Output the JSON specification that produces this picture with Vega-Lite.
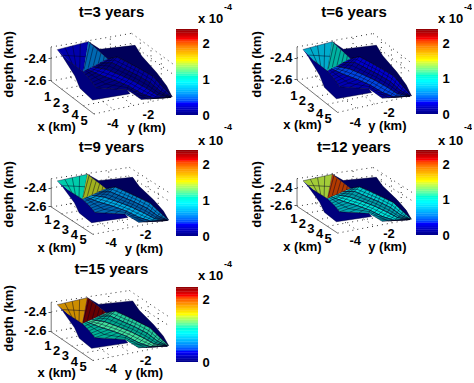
{"$schema":"https://vega.github.io/schema/vega-lite/v6.json","padding":{"left":2,"top":3,"right":0,"bottom":0},"spacing":0,"columns":4,"bounds":"flush",
"config":{"view":{"stroke":null},"font":"Liberation Sans","title":{"font":"Liberation Sans","fontWeight":"bold","fontSize":15,"color":"#000","offset":0,"baseline":"alphabetic"},"text":{"font":"Liberation Sans","fontWeight":"bold","fontSize":13,"color":"#000"},
"axis":{"titleFontSize":13,"titleFontWeight":"bold","titleColor":"#000","labelFontSize":13,"labelFontWeight":"bold","labelColor":"#000","domain":false,"grid":false}},
"datasets":{
"grid":[{"g":"a","u":153,"v":138},{"g":"a","u":395,"v":97},{"g":"b","u":395,"v":97},{"g":"b","u":520,"v":190},{"g":"c","u":153,"v":171},{"g":"c","u":392,"v":128},{"g":"d","u":392,"v":128},{"g":"d","u":518,"v":219},{"g":"e","u":212,"v":229},{"g":"e","u":212,"v":127},{"g":"f","u":271,"v":217},{"g":"f","u":271,"v":115},{"g":"h","u":331,"v":206},{"g":"h","u":331,"v":104},{"g":"i","u":421,"v":218},{"g":"i","u":421,"v":116},{"g":"j","u":453,"v":241},{"g":"j","u":453,"v":139},{"g":"k","u":484,"v":265},{"g":"k","u":484,"v":163},{"g":"l","u":185,"v":265},{"g":"l","u":421,"v":218},{"g":"m","u":217,"v":290},{"g":"m","u":453,"v":241},{"g":"n","u":250,"v":314},{"g":"n","u":484,"v":265},{"g":"o","u":212,"v":229},{"g":"o","u":341,"v":326},{"g":"p","u":271,"v":217},{"g":"p","u":399,"v":313},{"g":"q","u":331,"v":206},{"g":"q","u":457,"v":301},{"g":"r","u":282,"v":339},{"g":"r","u":516,"v":288},{"g":"s","u":153,"v":240},{"g":"s","u":390,"v":195},{"g":"t","u":390,"v":195},{"g":"t","u":516,"v":288}],
"edges":[{"g":"z","u":153,"v":138},{"g":"z","u":153,"v":240},{"g":"z","u":282,"v":339}],
"polys":[{"p":"N","c3":0.02,"c6":0.03,"c9":0.03,"c12":0.03,"c15":0.03,"s":0.4},{"p":"S","c3":0.1,"c6":0.1,"c9":0.12,"c12":0.1,"c15":0.08,"s":0.3},{"p":"W1","c3":0.2,"c6":0.75,"c9":1.05,"c12":1.4,"c15":1.75,"s":0.2},{"p":"W2","c3":0.55,"c6":1.0,"c9":1.45,"c12":2.0,"c15":2.35,"s":0.3},{"p":"M0","c3":0.15,"c6":0.3,"c9":0.6,"c12":0.9,"c15":1.1,"s":0.2},{"p":"M1","c3":0.12,"c6":0.25,"c9":0.55,"c12":0.85,"c15":1.05,"s":0.35},{"p":"M2","c3":0.2,"c6":0.38,"c9":0.68,"c12":0.95,"c15":1.15,"s":0.12},{"p":"M3","c3":0.12,"c6":0.3,"c9":0.55,"c12":0.85,"c15":1.05,"s":0.3}],
"verts":[
{"p":"N","u":265,"v":122},{"p":"N","u":300,"v":145},{"p":"N","u":405,"v":133},{"p":"N","u":425,"v":165},{"p":"N","u":470,"v":215},{"p":"N","u":500,"v":255},{"p":"N","u":516,"v":287},{"p":"N","u":490,"v":260},{"p":"N","u":459,"v":226},{"p":"N","u":418,"v":203},{"p":"N","u":385,"v":185},{"p":"N","u":351,"v":168},{"p":"N","u":323,"v":174},
{"p":"S","u":172,"v":146},{"p":"S","u":206,"v":180},{"p":"S","u":250,"v":212},{"p":"S","u":271,"v":236},{"p":"S","u":289,"v":260},{"p":"S","u":381,"v":266},{"p":"S","u":390,"v":278},{"p":"S","u":278,"v":297},{"p":"S","u":240,"v":262},{"p":"S","u":225,"v":225},{"p":"S","u":190,"v":170},
{"p":"W1","u":172,"v":146},{"p":"W1","u":265,"v":122},{"p":"W1","u":250,"v":212},{"p":"W1","u":206,"v":180},
{"p":"W2","u":265,"v":122},{"p":"W2","u":323,"v":174},{"p":"W2","u":250,"v":212},
{"p":"M0","u":323,"v":174},{"p":"M0","u":351,"v":168},{"p":"M0","u":385,"v":185},{"p":"M0","u":418,"v":203},{"p":"M0","u":459,"v":226},{"p":"M0","u":490,"v":260},{"p":"M0","u":516,"v":287},{"p":"M0","u":512,"v":288},{"p":"M0","u":482,"v":272},{"p":"M0","u":450,"v":245},{"p":"M0","u":410,"v":222},{"p":"M0","u":375,"v":205},{"p":"M0","u":335,"v":185},{"p":"M0","u":300,"v":186},
{"p":"M1","u":300,"v":186},{"p":"M1","u":335,"v":185},{"p":"M1","u":375,"v":205},{"p":"M1","u":410,"v":222},{"p":"M1","u":450,"v":245},{"p":"M1","u":482,"v":272},{"p":"M1","u":512,"v":288},{"p":"M1","u":512,"v":289},{"p":"M1","u":472,"v":282},{"p":"M1","u":440,"v":262},{"p":"M1","u":400,"v":240},{"p":"M1","u":360,"v":222},{"p":"M1","u":318,"v":205},{"p":"M1","u":278,"v":198},
{"p":"M2","u":278,"v":198},{"p":"M2","u":318,"v":205},{"p":"M2","u":360,"v":222},{"p":"M2","u":400,"v":240},{"p":"M2","u":440,"v":262},{"p":"M2","u":472,"v":282},{"p":"M2","u":512,"v":289},{"p":"M2","u":511,"v":289},{"p":"M2","u":462,"v":292},{"p":"M2","u":425,"v":278},{"p":"M2","u":385,"v":255},{"p":"M2","u":345,"v":238},{"p":"M2","u":300,"v":222},{"p":"M2","u":262,"v":205},
{"p":"M3","u":262,"v":205},{"p":"M3","u":300,"v":222},{"p":"M3","u":345,"v":238},{"p":"M3","u":385,"v":255},{"p":"M3","u":425,"v":278},{"p":"M3","u":462,"v":292},{"p":"M3","u":511,"v":289},{"p":"M3","u":510,"v":289},{"p":"M3","u":423,"v":295},{"p":"M3","u":402,"v":280},{"p":"M3","u":381,"v":266},{"p":"M3","u":289,"v":260},{"p":"M3","u":271,"v":236},{"p":"M3","u":250,"v":212}],
"mesh":[
{"m":"L0","u":323,"v":174},{"m":"L0","u":351,"v":168},{"m":"L0","u":385,"v":185},{"m":"L0","u":418,"v":203},{"m":"L0","u":459,"v":226},{"m":"L0","u":490,"v":260},{"m":"L0","u":516,"v":287},
{"m":"La","u":312,"v":180},{"m":"La","u":343,"v":177},{"m":"La","u":380,"v":195},{"m":"La","u":414,"v":212},{"m":"La","u":455,"v":236},{"m":"La","u":486,"v":266},{"m":"La","u":514,"v":288},
{"m":"L1","u":300,"v":186},{"m":"L1","u":335,"v":185},{"m":"L1","u":375,"v":205},{"m":"L1","u":410,"v":222},{"m":"L1","u":450,"v":245},{"m":"L1","u":482,"v":272},{"m":"L1","u":512,"v":288},
{"m":"Lb","u":289,"v":192},{"m":"Lb","u":327,"v":195},{"m":"Lb","u":368,"v":214},{"m":"Lb","u":405,"v":231},{"m":"Lb","u":445,"v":254},{"m":"Lb","u":477,"v":277},{"m":"Lb","u":512,"v":288},
{"m":"L2","u":278,"v":198},{"m":"L2","u":318,"v":205},{"m":"L2","u":360,"v":222},{"m":"L2","u":400,"v":240},{"m":"L2","u":440,"v":262},{"m":"L2","u":472,"v":282},{"m":"L2","u":512,"v":289},
{"m":"Lc","u":270,"v":202},{"m":"Lc","u":309,"v":214},{"m":"Lc","u":353,"v":230},{"m":"Lc","u":393,"v":248},{"m":"Lc","u":433,"v":270},{"m":"Lc","u":467,"v":287},{"m":"Lc","u":512,"v":289},
{"m":"L3","u":262,"v":205},{"m":"L3","u":300,"v":222},{"m":"L3","u":345,"v":238},{"m":"L3","u":385,"v":255},{"m":"L3","u":425,"v":278},{"m":"L3","u":462,"v":292},{"m":"L3","u":511,"v":289},
{"m":"Ld","u":256,"v":208},{"m":"Ld","u":286,"v":229},{"m":"Ld","u":317,"v":249},{"m":"Ld","u":383,"v":260},{"m":"Ld","u":414,"v":279},{"m":"Ld","u":443,"v":294},{"m":"Ld","u":510,"v":289},
{"m":"X1","u":332,"v":172},{"m":"X1","u":312,"v":186},{"m":"X1","u":291,"v":200},{"m":"X1","u":275,"v":211},{"m":"X1","u":257,"v":220},
{"m":"X2","u":342,"v":170},{"m":"X2","u":323,"v":185},{"m":"X2","u":305,"v":203},{"m":"X2","u":287,"v":216},{"m":"X2","u":264,"v":228},
{"m":"X3","u":351,"v":168},{"m":"X3","u":335,"v":185},{"m":"X3","u":318,"v":205},{"m":"X3","u":300,"v":222},{"m":"X3","u":271,"v":236},
{"m":"X4","u":362,"v":174},{"m":"X4","u":348,"v":192},{"m":"X4","u":332,"v":211},{"m":"X4","u":315,"v":227},{"m":"X4","u":277,"v":244},
{"m":"X5","u":374,"v":179},{"m":"X5","u":362,"v":198},{"m":"X5","u":346,"v":216},{"m":"X5","u":330,"v":233},{"m":"X5","u":283,"v":252},
{"m":"X6","u":385,"v":185},{"m":"X6","u":375,"v":205},{"m":"X6","u":360,"v":222},{"m":"X6","u":345,"v":238},{"m":"X6","u":289,"v":260},
{"m":"X7","u":396,"v":191},{"m":"X7","u":387,"v":211},{"m":"X7","u":373,"v":228},{"m":"X7","u":358,"v":244},{"m":"X7","u":320,"v":262},
{"m":"X8","u":407,"v":197},{"m":"X8","u":398,"v":216},{"m":"X8","u":387,"v":234},{"m":"X8","u":372,"v":249},{"m":"X8","u":350,"v":264},
{"m":"X9","u":418,"v":203},{"m":"X9","u":410,"v":222},{"m":"X9","u":400,"v":240},{"m":"X9","u":385,"v":255},{"m":"X9","u":381,"v":266},
{"m":"Xa","u":432,"v":211},{"m":"Xa","u":423,"v":230},{"m":"Xa","u":413,"v":247},{"m":"Xa","u":398,"v":263},{"m":"Xa","u":388,"v":271},
{"m":"Xb","u":445,"v":218},{"m":"Xb","u":437,"v":237},{"m":"Xb","u":427,"v":255},{"m":"Xb","u":412,"v":270},{"m":"Xb","u":395,"v":275},
{"m":"Xc","u":459,"v":226},{"m":"Xc","u":450,"v":245},{"m":"Xc","u":440,"v":262},{"m":"Xc","u":425,"v":278},{"m":"Xc","u":402,"v":280},
{"m":"Xd","u":469,"v":237},{"m":"Xd","u":461,"v":254},{"m":"Xd","u":451,"v":269},{"m":"Xd","u":437,"v":283},{"m":"Xd","u":409,"v":285},
{"m":"Xe","u":480,"v":249},{"m":"Xe","u":471,"v":263},{"m":"Xe","u":461,"v":276},{"m":"Xe","u":450,"v":287},{"m":"Xe","u":416,"v":290},
{"m":"Xf","u":490,"v":260},{"m":"Xf","u":482,"v":272},{"m":"Xf","u":472,"v":282},{"m":"Xf","u":462,"v":292},{"m":"Xf","u":423,"v":295},
{"m":"Xg","u":499,"v":269},{"m":"Xg","u":492,"v":277},{"m":"Xg","u":485,"v":284},{"m":"Xg","u":478,"v":291},{"m":"Xg","u":452,"v":293},
{"m":"Xh","u":507,"v":278},{"m":"Xh","u":502,"v":283},{"m":"Xh","u":499,"v":287},{"m":"Xh","u":495,"v":290},{"m":"Xh","u":481,"v":291},
{"m":"Y1","u":270,"v":128},{"m":"Y1","u":252,"v":205},{"m":"Y2","u":280,"v":137},{"m":"Y2","u":265,"v":200},{"m":"Y3","u":292,"v":147},{"m":"Y3","u":280,"v":194},{"m":"Y4","u":303,"v":156},{"m":"Y4","u":295,"v":187},{"m":"Y5","u":313,"v":165},{"m":"Y5","u":310,"v":180},
{"m":"Z1","u":195,"v":140},{"m":"Z1","u":217,"v":188},{"m":"Z2","u":218,"v":134},{"m":"Z2","u":228,"v":196},{"m":"Z3","u":241,"v":128},{"m":"Z3","u":239,"v":204},{"m":"Z4","u":189,"v":163},{"m":"Z4","u":257,"v":167}],
"labs":[{"t":"1","u":143,"v":288},{"t":"2","u":170,"v":305},{"t":"3","u":197,"v":325},{"t":"4","u":225,"v":343},{"t":"5","u":252,"v":360},{"t":"-4","u":338,"v":370},{"t":"-2","u":445,"v":342}],
"names":[{"t":"x (km)","u":170,"v":378},{"t":"y (km)","u":440,"v":380}],
"bar":[{"a":0,"b":0.06},{"a":0.05,"b":0.11},{"a":0.1,"b":0.16},{"a":0.15,"b":0.21},{"a":0.2,"b":0.26},{"a":0.25,"b":0.31},{"a":0.3,"b":0.36},{"a":0.35,"b":0.41},{"a":0.4,"b":0.46},{"a":0.45,"b":0.51},{"a":0.5,"b":0.56},{"a":0.55,"b":0.61},{"a":0.6,"b":0.66},{"a":0.65,"b":0.71},{"a":0.7,"b":0.76},{"a":0.75,"b":0.81},{"a":0.8,"b":0.86},{"a":0.85,"b":0.91},{"a":0.9,"b":0.96},{"a":0.95,"b":1.01},{"a":1,"b":1.06},{"a":1.05,"b":1.11},{"a":1.1,"b":1.16},{"a":1.15,"b":1.21},{"a":1.2,"b":1.26},{"a":1.25,"b":1.31},{"a":1.3,"b":1.36},{"a":1.35,"b":1.41},{"a":1.4,"b":1.46},{"a":1.45,"b":1.51},{"a":1.5,"b":1.56},{"a":1.55,"b":1.61},{"a":1.6,"b":1.66},{"a":1.65,"b":1.71},{"a":1.7,"b":1.76},{"a":1.75,"b":1.81},{"a":1.8,"b":1.86},{"a":1.85,"b":1.91},{"a":1.9,"b":1.96},{"a":1.95,"b":2.01},{"a":2,"b":2.06},{"a":2.05,"b":2.11},{"a":2.1,"b":2.16},{"a":2.15,"b":2.21},{"a":2.2,"b":2.26},{"a":2.25,"b":2.31},{"a":2.3,"b":2.36},{"a":2.35,"b":2.4}]
},
"concat":[
{"width":125,"height":121,"title":{"text":"t=3 years","dy":-5,"dx":-2},
"encoding":{"x":{"field":"u","type":"quantitative","scale":{"domain":[153,528],"nice":false,"zero":false},"axis":null},"y":{"field":"v","type":"quantitative","scale":{"domain":[447,84],"nice":false,"zero":false},"axis":{"values":[171,237],"labelExpr":"datum.value==171?'-2.4':'-2.6'","title":"depth (km)","titleX":-36,"titleY":35,"tickSize":3,"tickColor":"#555","labelPadding":2}}},
"layer":[{"data":{"name":"grid"},"transform":[{"window":[{"op":"row_number","as":"o"}]}],"mark":{"type":"line","stroke":"#333","strokeWidth":1,"strokeDash":[1,4]},"encoding":{"detail":{"field":"g"},"order":{"field":"o"}}},
{"data":{"name":"edges"},"transform":[{"window":[{"op":"row_number","as":"o"}]}],"mark":{"type":"line","stroke":"#777","strokeWidth":1},"encoding":{"detail":{"field":"g"},"order":{"field":"o"}}},
{"data":{"name":"verts"},"transform":[{"window":[{"op":"row_number","as":"o"}]},{"lookup":"p","from":{"data":{"name":"polys"},"key":"p","fields":["c3"]}}],"mark":{"type":"line","stroke":"#000030","strokeWidth":0.4},"encoding":{"detail":{"field":"p"},"order":{"field":"o"},"fill":{"field":"c3","type":"quantitative","legend":null,"scale":{"domain":[0,0.3,0.9,1.5,2.1,2.4],"range":["#00008f","#0000ff","#00ffff","#ffff00","#ff0000","#800000"]}}}},
{"data":{"name":"verts"},"transform":[{"window":[{"op":"row_number","as":"o"}]},{"lookup":"p","from":{"data":{"name":"polys"},"key":"p","fields":["s"]}}],"mark":{"type":"line","fill":"#000","strokeWidth":0},"encoding":{"detail":{"field":"p"},"order":{"field":"o"},"fillOpacity":{"field":"s","type":"quantitative","scale":null}}},
{"data":{"name":"mesh"},"transform":[{"window":[{"op":"row_number","as":"o"}]}],"mark":{"type":"line","stroke":"#000020","strokeWidth":0.6,"strokeOpacity":0.8},"encoding":{"detail":{"field":"m"},"order":{"field":"o"}}},
{"data":{"name":"labs"},"mark":{"type":"text"},"encoding":{"text":{"field":"t"}}},
{"data":{"name":"names"},"mark":{"type":"text"},"encoding":{"text":{"field":"t"}}}]},
{"width":22,"height":86,"data":{"name":"bar"},
"layer":[{"mark":"rect","encoding":{"x":{"datum":0,"scale":{"domain":[0,1]},"axis":null},"x2":{"datum":1},"y":{"field":"a","type":"quantitative","scale":{"domain":[0,2.4],"nice":false},"axis":{"orient":"right","values":[0,1,2],"title":null,"ticks":false,"labelPadding":4}},"y2":{"field":"b"},"fill":{"field":"a","type":"quantitative","legend":null,"scale":{"domain":[0,0.3,0.9,1.5,2.1,2.4],"range":["#00008f","#0000ff","#00ffff","#ffff00","#ff0000","#800000"]}}}},
{"data":{"values":[{"t":"x 10","xx":1,"yy":2.68,"f":13},{"t":"-4","xx":2.18,"yy":3.01,"f":9}]},"mark":{"type":"text","align":"left"},"encoding":{"x":{"field":"xx","type":"quantitative"},"y":{"field":"yy","type":"quantitative"},"text":{"field":"t"},"size":{"field":"f","type":"quantitative","scale":null}}}]},
{"width":218,"height":121,"title":{"text":"t=6 years","dy":-5,"dx":47},
"encoding":{"x":{"field":"u","type":"quantitative","scale":{"domain":[-161.7,531],"nice":false,"zero":false},"axis":null},"y":{"field":"v","type":"quantitative","scale":{"domain":[454.2,83.1],"nice":false,"zero":false},"axis":{"offset":-99,"values":[171,237],"labelExpr":"datum.value==171?'-2.4':'-2.6'","title":"depth (km)","titleX":-34,"titleY":35,"tickSize":3,"tickColor":"#555","labelPadding":2}}},
"layer":[{"data":{"name":"grid"},"transform":[{"window":[{"op":"row_number","as":"o"}]}],"mark":{"type":"line","stroke":"#333","strokeWidth":1,"strokeDash":[1,4]},"encoding":{"detail":{"field":"g"},"order":{"field":"o"}}},
{"data":{"name":"edges"},"transform":[{"window":[{"op":"row_number","as":"o"}]}],"mark":{"type":"line","stroke":"#777","strokeWidth":1},"encoding":{"detail":{"field":"g"},"order":{"field":"o"}}},
{"data":{"name":"verts"},"transform":[{"window":[{"op":"row_number","as":"o"}]},{"lookup":"p","from":{"data":{"name":"polys"},"key":"p","fields":["c6"]}}],"mark":{"type":"line","stroke":"#000030","strokeWidth":0.4},"encoding":{"detail":{"field":"p"},"order":{"field":"o"},"fill":{"field":"c6","type":"quantitative","legend":null,"scale":{"domain":[0,0.3,0.9,1.5,2.1,2.4],"range":["#00008f","#0000ff","#00ffff","#ffff00","#ff0000","#800000"]}}}},
{"data":{"name":"verts"},"transform":[{"window":[{"op":"row_number","as":"o"}]},{"lookup":"p","from":{"data":{"name":"polys"},"key":"p","fields":["s"]}}],"mark":{"type":"line","fill":"#000","strokeWidth":0},"encoding":{"detail":{"field":"p"},"order":{"field":"o"},"fillOpacity":{"field":"s","type":"quantitative","scale":null}}},
{"data":{"name":"mesh"},"transform":[{"window":[{"op":"row_number","as":"o"}]}],"mark":{"type":"line","stroke":"#000020","strokeWidth":0.6,"strokeOpacity":0.8},"encoding":{"detail":{"field":"m"},"order":{"field":"o"}}},
{"data":{"name":"labs"},"mark":{"type":"text"},"encoding":{"text":{"field":"t"}}},
{"data":{"name":"names"},"mark":{"type":"text"},"encoding":{"text":{"field":"t"}}}]},
{"width":22,"height":85,"data":{"name":"bar"},
"layer":[{"mark":"rect","encoding":{"x":{"datum":0,"scale":{"domain":[0,1]},"axis":null},"x2":{"datum":1},"y":{"field":"a","type":"quantitative","scale":{"domain":[0,2.4],"nice":false},"axis":{"orient":"right","values":[0,1,2],"title":null,"ticks":false,"labelPadding":4}},"y2":{"field":"b"},"fill":{"field":"a","type":"quantitative","legend":null,"scale":{"domain":[0,0.3,0.9,1.5,2.1,2.4],"range":["#00008f","#0000ff","#00ffff","#ffff00","#ff0000","#800000"]}}}},
{"data":{"values":[{"t":"x 10","xx":1,"yy":2.68,"f":13},{"t":"-4","xx":2.18,"yy":3.01,"f":9}]},"mark":{"type":"text","align":"left"},"encoding":{"x":{"field":"xx","type":"quantitative"},"y":{"field":"yy","type":"quantitative"},"text":{"field":"t"},"size":{"field":"f","type":"quantitative","scale":null}}}]},
{"width":125,"height":137,"title":{"text":"t=9 years","dy":9,"dx":-2},
"encoding":{"x":{"field":"u","type":"quantitative","scale":{"domain":[152.4,539.1],"nice":false,"zero":false},"axis":null},"y":{"field":"v","type":"quantitative","scale":{"domain":[529.5,34.2],"nice":false,"zero":false},"axis":{"values":[171,237],"labelExpr":"datum.value==171?'-2.4':'-2.6'","title":"depth (km)","titleX":-36,"titleY":44,"tickSize":3,"tickColor":"#555","labelPadding":2}}},
"layer":[{"data":{"name":"grid"},"transform":[{"window":[{"op":"row_number","as":"o"}]}],"mark":{"type":"line","stroke":"#333","strokeWidth":1,"strokeDash":[1,4]},"encoding":{"detail":{"field":"g"},"order":{"field":"o"}}},
{"data":{"name":"edges"},"transform":[{"window":[{"op":"row_number","as":"o"}]}],"mark":{"type":"line","stroke":"#777","strokeWidth":1},"encoding":{"detail":{"field":"g"},"order":{"field":"o"}}},
{"data":{"name":"verts"},"transform":[{"window":[{"op":"row_number","as":"o"}]},{"lookup":"p","from":{"data":{"name":"polys"},"key":"p","fields":["c9"]}}],"mark":{"type":"line","stroke":"#000030","strokeWidth":0.4},"encoding":{"detail":{"field":"p"},"order":{"field":"o"},"fill":{"field":"c9","type":"quantitative","legend":null,"scale":{"domain":[0,0.3,0.9,1.5,2.1,2.4],"range":["#00008f","#0000ff","#00ffff","#ffff00","#ff0000","#800000"]}}}},
{"data":{"name":"verts"},"transform":[{"window":[{"op":"row_number","as":"o"}]},{"lookup":"p","from":{"data":{"name":"polys"},"key":"p","fields":["s"]}}],"mark":{"type":"line","fill":"#000","strokeWidth":0},"encoding":{"detail":{"field":"p"},"order":{"field":"o"},"fillOpacity":{"field":"s","type":"quantitative","scale":null}}},
{"data":{"name":"mesh"},"transform":[{"window":[{"op":"row_number","as":"o"}]}],"mark":{"type":"line","stroke":"#000020","strokeWidth":0.6,"strokeOpacity":0.8},"encoding":{"detail":{"field":"m"},"order":{"field":"o"}}},
{"data":{"name":"labs"},"mark":{"type":"text"},"encoding":{"text":{"field":"t"}}},
{"data":{"name":"names"},"mark":{"type":"text","dy":3},"encoding":{"text":{"field":"t"}}}]},
{"width":22,"height":86,"data":{"name":"bar"},
"layer":[{"mark":"rect","encoding":{"x":{"datum":0,"scale":{"domain":[0,1]},"axis":null},"x2":{"datum":1},"y":{"field":"a","type":"quantitative","scale":{"domain":[0,2.4],"nice":false},"axis":{"orient":"right","values":[0,1,2],"title":null,"ticks":false,"labelPadding":4}},"y2":{"field":"b"},"fill":{"field":"a","type":"quantitative","legend":null,"scale":{"domain":[0,0.3,0.9,1.5,2.1,2.4],"range":["#00008f","#0000ff","#00ffff","#ffff00","#ff0000","#800000"]}}}},
{"data":{"values":[{"t":"x 10","xx":1,"yy":2.65,"f":13},{"t":"-4","xx":2.18,"yy":3.04,"f":9}]},"mark":{"type":"text","align":"left"},"encoding":{"x":{"field":"xx","type":"quantitative"},"y":{"field":"yy","type":"quantitative"},"text":{"field":"t"},"size":{"field":"f","type":"quantitative","scale":null}}}]},
{"width":218,"height":137,"title":{"text":"t=12 years","dy":9,"dx":47},
"encoding":{"x":{"field":"u","type":"quantitative","scale":{"domain":[-161.7,531],"nice":false,"zero":false},"axis":null},"y":{"field":"v","type":"quantitative","scale":{"domain":[537.9,32.4],"nice":false,"zero":false},"axis":{"offset":-99,"values":[171,237],"labelExpr":"datum.value==171?'-2.4':'-2.6'","title":"depth (km)","titleX":-34,"titleY":44,"tickSize":3,"tickColor":"#555","labelPadding":2}}},
"layer":[{"data":{"name":"grid"},"transform":[{"window":[{"op":"row_number","as":"o"}]}],"mark":{"type":"line","stroke":"#333","strokeWidth":1,"strokeDash":[1,4]},"encoding":{"detail":{"field":"g"},"order":{"field":"o"}}},
{"data":{"name":"edges"},"transform":[{"window":[{"op":"row_number","as":"o"}]}],"mark":{"type":"line","stroke":"#777","strokeWidth":1},"encoding":{"detail":{"field":"g"},"order":{"field":"o"}}},
{"data":{"name":"verts"},"transform":[{"window":[{"op":"row_number","as":"o"}]},{"lookup":"p","from":{"data":{"name":"polys"},"key":"p","fields":["c12"]}}],"mark":{"type":"line","stroke":"#000030","strokeWidth":0.4},"encoding":{"detail":{"field":"p"},"order":{"field":"o"},"fill":{"field":"c12","type":"quantitative","legend":null,"scale":{"domain":[0,0.3,0.9,1.5,2.1,2.4],"range":["#00008f","#0000ff","#00ffff","#ffff00","#ff0000","#800000"]}}}},
{"data":{"name":"verts"},"transform":[{"window":[{"op":"row_number","as":"o"}]},{"lookup":"p","from":{"data":{"name":"polys"},"key":"p","fields":["s"]}}],"mark":{"type":"line","fill":"#000","strokeWidth":0},"encoding":{"detail":{"field":"p"},"order":{"field":"o"},"fillOpacity":{"field":"s","type":"quantitative","scale":null}}},
{"data":{"name":"mesh"},"transform":[{"window":[{"op":"row_number","as":"o"}]}],"mark":{"type":"line","stroke":"#000020","strokeWidth":0.6,"strokeOpacity":0.8},"encoding":{"detail":{"field":"m"},"order":{"field":"o"}}},
{"data":{"name":"labs"},"mark":{"type":"text"},"encoding":{"text":{"field":"t"}}},
{"data":{"name":"names"},"mark":{"type":"text","dy":3},"encoding":{"text":{"field":"t"}}}]},
{"width":22,"height":85,"data":{"name":"bar"},
"layer":[{"mark":"rect","encoding":{"x":{"datum":0,"scale":{"domain":[0,1]},"axis":null},"x2":{"datum":1},"y":{"field":"a","type":"quantitative","scale":{"domain":[0,2.4],"nice":false},"axis":{"orient":"right","values":[0,1,2],"title":null,"ticks":false,"labelPadding":4}},"y2":{"field":"b"},"fill":{"field":"a","type":"quantitative","legend":null,"scale":{"domain":[0,0.3,0.9,1.5,2.1,2.4],"range":["#00008f","#0000ff","#00ffff","#ffff00","#ff0000","#800000"]}}}},
{"data":{"values":[{"t":"x 10","xx":1,"yy":2.65,"f":13},{"t":"-4","xx":2.18,"yy":3.04,"f":9}]},"mark":{"type":"text","align":"left"},"encoding":{"x":{"field":"xx","type":"quantitative"},"y":{"field":"yy","type":"quantitative"},"text":{"field":"t"},"size":{"field":"f","type":"quantitative","scale":null}}}]},
{"width":125,"height":97,"title":{"text":"t=15 years","dy":-4,"dx":-2},
"encoding":{"x":{"field":"u","type":"quantitative","scale":{"domain":[152.4,539.1],"nice":false,"zero":false},"axis":null},"y":{"field":"v","type":"quantitative","scale":{"domain":[420.3,84.9],"nice":false,"zero":false},"axis":{"values":[171,237],"labelExpr":"datum.value==171?'-2.4':'-2.6'","title":"depth (km)","titleX":-36,"titleY":31,"tickSize":3,"tickColor":"#555","labelPadding":2}}},
"layer":[{"data":{"name":"grid"},"transform":[{"window":[{"op":"row_number","as":"o"}]}],"mark":{"type":"line","stroke":"#333","strokeWidth":1,"strokeDash":[1,4]},"encoding":{"detail":{"field":"g"},"order":{"field":"o"}}},
{"data":{"name":"edges"},"transform":[{"window":[{"op":"row_number","as":"o"}]}],"mark":{"type":"line","stroke":"#777","strokeWidth":1},"encoding":{"detail":{"field":"g"},"order":{"field":"o"}}},
{"data":{"name":"verts"},"transform":[{"window":[{"op":"row_number","as":"o"}]},{"lookup":"p","from":{"data":{"name":"polys"},"key":"p","fields":["c15"]}}],"mark":{"type":"line","stroke":"#000030","strokeWidth":0.4},"encoding":{"detail":{"field":"p"},"order":{"field":"o"},"fill":{"field":"c15","type":"quantitative","legend":null,"scale":{"domain":[0,0.3,0.9,1.5,2.1,2.4],"range":["#00008f","#0000ff","#00ffff","#ffff00","#ff0000","#800000"]}}}},
{"data":{"name":"verts"},"transform":[{"window":[{"op":"row_number","as":"o"}]},{"lookup":"p","from":{"data":{"name":"polys"},"key":"p","fields":["s"]}}],"mark":{"type":"line","fill":"#000","strokeWidth":0},"encoding":{"detail":{"field":"p"},"order":{"field":"o"},"fillOpacity":{"field":"s","type":"quantitative","scale":null}}},
{"data":{"name":"mesh"},"transform":[{"window":[{"op":"row_number","as":"o"}]}],"mark":{"type":"line","stroke":"#000020","strokeWidth":0.6,"strokeOpacity":0.8},"encoding":{"detail":{"field":"m"},"order":{"field":"o"}}},
{"data":{"name":"labs"},"mark":{"type":"text"},"encoding":{"text":{"field":"t"}}},
{"data":{"name":"names"},"mark":{"type":"text","dy":1},"encoding":{"text":{"field":"t"}}}]},
{"width":22,"height":75,"data":{"name":"bar"},
"layer":[{"mark":"rect","encoding":{"x":{"datum":0,"scale":{"domain":[0,1]},"axis":null},"x2":{"datum":1},"y":{"field":"a","type":"quantitative","scale":{"domain":[0,2.4],"nice":false},"axis":{"orient":"right","values":[0,1,2],"title":null,"ticks":false,"labelPadding":4}},"y2":{"field":"b"},"fill":{"field":"a","type":"quantitative","legend":null,"scale":{"domain":[0,0.3,0.9,1.5,2.1,2.4],"range":["#00008f","#0000ff","#00ffff","#ffff00","#ff0000","#800000"]}}}},
{"data":{"values":[{"t":"x 10","xx":1,"yy":2.75,"f":13},{"t":"-4","xx":2.18,"yy":3.14,"f":9}]},"mark":{"type":"text","align":"left"},"encoding":{"x":{"field":"xx","type":"quantitative"},"y":{"field":"yy","type":"quantitative"},"text":{"field":"t"},"size":{"field":"f","type":"quantitative","scale":null}}}]}
]}
